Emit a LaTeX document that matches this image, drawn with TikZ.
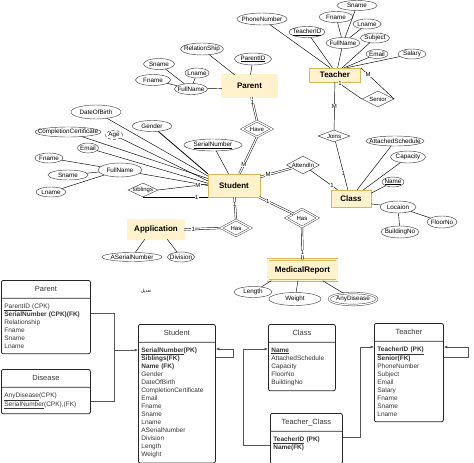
\documentclass[tikz,border=0pt]{standalone}
\usepackage{fontspec}
\setmainfont{Liberation Sans}
\newfontfamily\arabicfont[Script=Arabic]{DejaVu Sans}
\TeXXeTstate=1
\usetikzlibrary{shapes.geometric,shapes.multipart,arrows.meta}

\definecolor{erfill}{HTML}{FFF2CC}
\definecolor{erline}{HTML}{D6B656}
\definecolor{wire}{HTML}{555555}

\newcommand\tblhead[1]{\fontsize{7.5}{8}\selectfont\rule[-1.5pt]{0pt}{7pt}\makebox[\linewidth]{#1}}

\tikzset{
  entity/.style 2 args={rectangle, draw=erline, fill=erfill, inner sep=0pt,
    minimum width=#1, minimum height=#2, font=\bfseries\fontsize{8}{9}\selectfont},
  weak/.style={double=erfill, double distance=1.4pt},
  attr/.style 2 args={ellipse, draw=black!75, fill=white, inner xsep=-60pt, inner ysep=-20pt,
    minimum width=#1, minimum height=#2, font=\fontsize{6.3}{7}\selectfont},
  rel/.style 2 args={diamond, draw=black!75, fill=white, inner sep=-30pt,
    minimum width=#1, minimum height=#2, font=\fontsize{6}{7}\selectfont},
  dbl/.style={double, double distance=1.2pt},
  card/.style={fill=white, inner sep=0.4pt, font=\fontsize{6}{6}\selectfont},
  tbl/.style={rectangle split, rectangle split parts=2, draw=black!85, line width=0.8pt,
    rounded corners=2pt, text width=#1, align=left, inner xsep=3pt, inner ysep=5pt,
    anchor=north west, font=\fontsize{6.5}{8}\selectfont, text=black!80},
  fk/.style={draw=wire, line width=0.6pt, -{Latex[length=3.5pt,width=3pt]}},
}

\begin{document}
\begin{tikzpicture}[x=1pt, y=-1pt, line width=0.45pt]
\useasboundingbox (0,0) rectangle (474,463);

% entities
\node (Teacher) at (335,75) [entity={51pt}{14pt}] {Teacher};
\node (Parent) at (249.5,86) [entity={55pt}{22pt}, weak] {Parent};
\node (Student) at (234,185.5) [entity={52pt}{23pt}] {Student};
\node (Class) at (351,198.5) [entity={40pt}{17pt}] {Class};
\node (Application) at (156,229.5) [entity={56pt}{19pt}, weak] {Application};
\node (MedRep) at (302.5,270) [entity={69pt}{21pt}, weak] {MedicalReport};

% relationships
\node (Senior) at (378,99) [rel={32pt}{16pt}] {Senior};
\node (Joins) at (334,136) [rel={32pt}{12pt}] {Joins};
\node (AttendIn) at (303,165) [rel={33pt}{18pt}] {AttendIn};
\node (Have) at (257,129) [rel={30pt}{16pt}, dbl] {Have};
\node (Siblings) at (143,190) [rel={30pt}{14pt}] {siblings};
\node (HasApp) at (236,228) [rel={30pt}{16pt}, dbl] {Has};
\node (HasMed) at (302,218) [rel={32pt}{18pt}, dbl] {Has};

% teacher attributes
\node (tPhone) at (262,19) [attr={50pt}{12pt}] {PhoneNumber};
\node (tID) at (307,32) [attr={36pt}{11pt}] {\underline{TeacherID}};
\node (tFname) at (336,17) [attr={34pt}{11pt}] {Fname};
\node (tSname) at (357,5.5) [attr={40pt}{10pt}] {Sname};
\node (tLname) at (367,24) [attr={28pt}{10pt}] {Lname};
\node (tFull) at (343,43) [attr={34pt}{11pt}] {FullName};
\node (tSubject) at (375,38) [attr={29pt}{10pt}] {Subject};
\node (tEmail) at (377,54) [attr={22pt}{9pt}] {Email};
\node (tSalary) at (412,54) [attr={28pt}{10pt}] {Salary};

% parent attributes
\node (pRel) at (202,49) [attr={43pt}{12pt}] {RelationShip};
\node (pID) at (253,59) [attr={37pt}{12pt}] {\underline{ParentID}};
\node (pSname) at (159,64) [attr={31pt}{11pt}] {Sname};
\node (pLname) at (197,73) [attr={24pt}{10pt}] {Lname};
\node (pFname) at (153,80) [attr={35pt}{11pt}] {Fname};
\node (pFull) at (191,89) [attr={33pt}{11pt}] {FullName};

% student attributes
\node (sDob) at (96,112) [attr={50pt}{14pt}] {DateOfBirth};
\node (sCert) at (68,132) [attr={66pt}{10pt}] {CompletionCertificate};
\node (sAge) at (114,135) [attr={17pt}{9pt}, densely dashed] {Age};
\node (sGender) at (152,126) [attr={40pt}{11pt}] {Gender};
\node (sEmail) at (88,148) [attr={21pt}{10pt}] {Email};
\node (sFname) at (49,158) [attr={28pt}{10pt}] {Fname};
\node (sFull) at (120,170) [attr={44pt}{14pt}] {FullName};
\node (sSname) at (68,175) [attr={40pt}{10pt}] {Sname};
\node (sLname) at (51,192) [attr={30pt}{10pt}] {Lname};
\node (sSerial) at (213,145) [attr={58pt}{12pt}] {\underline{SerialNumber}};

% class attributes
\node (cSched) at (395,141) [attr={58pt}{10pt}] {AttachedSchedule};
\node (cCap) at (408,157) [attr={35pt}{12pt}] {Capacity};
\node (cName) at (393,182) [attr={22pt}{10pt}] {\underline{Name}};
\node (cLoc) at (398,207) [attr={36pt}{12pt}] {Locaion};
\node (cFloor) at (442,222) [attr={30pt}{12pt}] {FloorNo};
\node (cBuild) at (400,232) [attr={38pt}{12pt}] {BuildingNo};

% application and medical report attributes
\node (aSerial) at (132,257) [attr={60pt}{9pt}] {ASerialNumber};
\node (aDiv) at (181,257) [attr={27pt}{10pt}] {Division};
\node (mLength) at (253,292) [attr={38pt}{11pt}] {Length};
\node (mWeight) at (295,299) [attr={52pt}{13pt}] {Weight};
\node (mDisease) at (353,299) [attr={48pt}{12pt}, dbl] {AnyDisease};

\node (edit) at (146,291) [font=\arabicfont\fontsize{4.5}{5}\selectfont] {\beginR تعديل\endR};

% attribute lines
\draw (tPhone) -- (Teacher.125);
\draw (tID) -- (Teacher.110);
\draw (tFull) -- (Teacher.70);
\draw (tSubject) -- (Teacher.45);
\draw (tEmail) -- (Teacher.38);
\draw (tSalary) -- (Teacher.32);
\draw (tFname) -- (tFull);
\draw (tSname) -- (tFull);
\draw (tLname) -- (tFull);

\draw (pRel) -- (Parent.143);
\draw (pID) -- (Parent.85);
\draw (pFull) -- (Parent.185);
\draw (pSname) -- (pFull);
\draw (pLname) -- (pFull);
\draw (pFname) -- (pFull);

\draw (sSerial) -- (Student.115);
\draw[line width=0.8pt] (sGender) -- (Student.north west);
\draw (sDob) -- (Student.160);
\draw (sCert) -- (Student.165);
\draw (sAge) -- (Student.170);
\draw (sEmail) -- (Student.175);
\draw (sFull) -- (Student.180);
\draw (sFname) -- (sFull);
\draw (sSname) -- (sFull);
\draw (sLname) -- (sFull);

\draw (Class.55) -- (cSched);
\draw (Class.35) -- (cCap);
\draw (Class.15) -- (cName);
\draw (Class.-15) -- (cLoc);
\draw (cLoc) -- (cFloor);
\draw (cLoc) -- (cBuild);

\draw (Application.221) -- (aSerial);
\draw (Application.-41) -- (aDiv);
\draw (MedRep.199) -- (mLength);
\draw (MedRep.247) -- (mWeight);
\draw (MedRep.-28) -- (mDisease);

% relationship lines
\draw (Teacher.north east) -- node[card, pos=0.22] {M} (Senior.east);
\draw (Teacher.-70) -- node[card, pos=0.1] {1} (Senior.west);
\draw (Teacher) -- node[card] {M} (Joins);
\draw (Joins) -- node[card, pos=0.65] {1} (Class.110);
\draw[dbl] (Student.18) -- node[card, pos=0.25] {M} (AttendIn);
\draw (AttendIn) -- node[card, pos=0.8] {1} (Class.147);
\draw[dbl] (Parent.-80) -- node[card, pos=0.2] {1} (Have.north);
\draw[dbl] (Have.south) -- node[card, pos=0.75] {M} (Student.65);
\draw (Siblings.east) -- node[card, pos=0.8] {M} (Student.177);
\draw (Siblings.south) -- node[card, pos=0.83] {1} (Student.south west);
\draw[dbl] (Application.east) -- node[card, pos=0.25] {1} (HasApp.west);
\draw[dbl] (HasApp.north) -- node[card, pos=0.7] {1} (Student.-88);
\draw[dbl] (Student.-25) -- node[card, pos=0.25] {1} (HasMed);
\draw[dbl] (HasMed.south) -- node[card, pos=0.8] {1} (MedRep.north);

% tables
\node (tParent) at (1,280) [tbl=83pt] {\tblhead{Parent}\nodepart{two}\underline{ParentID }(CPK)\\\textbf{SerialNumber (CPK)(FK)}\\Relationship\\Fname\\Sname\\Lname};
\node (tDisease) at (1,369) [tbl=83pt] {\tblhead{Disease}\nodepart{two}\underline{AnyDisease}(CPK)\\\underline{SerialNumber}(CPK),(FK)};
\node (tStudent) at (138,324) [tbl=71pt] {\tblhead{Student}\nodepart{two}\textbf{\underline{SerialNumber}(PK)}\\\textbf{Siblings(FK)}\\\textbf{Name (FK)}\\Gender\\DateOfBirth\\CompletionCertificate\\Email\\Fname\\Sname\\Lname\\ASerialNumber\\Division\\Length\\Weight};
\node (tClass) at (268,324) [tbl=61pt] {\tblhead{Class}\nodepart{two}\textbf{\underline{Name}}\\AttachedSchedule\\Capacity\\FloorNo\\BuildingNo};
\node (tTC) at (270,413) [tbl=66pt] {\tblhead{Teacher\_Class}\nodepart{two}\textbf{\underline{TeacherID} (PK)}\\\textbf{Name(FK)}\rule[-9pt]{0pt}{1pt}};
\node (tTeacher) at (374,323) [tbl=63pt] {\tblhead{Teacher}\nodepart{two}\textbf{\underline{TeacherID (PK)}}\\\textbf{Senior(FK)}\\PhoneNumber\\Subject\\Email\\Salary\\Fname\\Sname\\Lname};

% table links
\coordinate (fkA) at (114,313);
\coordinate (fkB) at (114,401);
\coordinate (fkC) at (114,350);
\coordinate (sLoopA) at (233,357);
\coordinate (sLoopB) at (233,349);
\coordinate (tcA) at (243,445);
\coordinate (tcB) at (243,349);
\coordinate (tkA) at (360,437);
\coordinate (tkB) at (360,347);
\coordinate (tsA) at (468,357);
\coordinate (tsB) at (468,347);
\draw[draw=wire, line width=0.6pt] (tParent.east |- fkA) -- (fkA) -- (fkB) -- (tDisease.east |- fkB);
\draw[fk] (fkC) -- (tStudent.west |- fkC);
\draw[fk] (tStudent.east |- sLoopA) -- (sLoopA) -- (sLoopB) -- (tStudent.east |- sLoopB);
\draw[fk] (tTC.west |- tcA) -- (tcA) -- (tcB) -- (tClass.west |- tcB);
\draw[fk] (tTC.east |- tkA) -- (tkA) -- (tkB) -- (tTeacher.west |- tkB);
\draw[fk] (tTeacher.east |- tsA) -- (tsA) -- (tsB) -- (tTeacher.east |- tsB);
\end{tikzpicture}
\end{document}
